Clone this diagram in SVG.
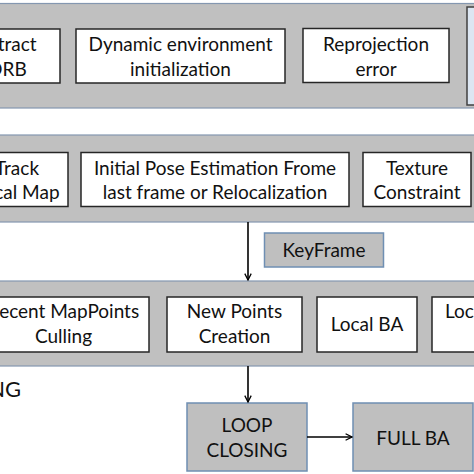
<svg xmlns="http://www.w3.org/2000/svg" width="474" height="474" viewBox="0 0 474 474">
<style>
.panel{fill:#c0c0c0;stroke:#8497b0;stroke-width:1.2}
.box{fill:#ffffff;stroke:#262626;stroke-width:1.5}
.gbox{fill:#bfbfbf;stroke:#6f8fb3;stroke-width:1.5}
.bbox{fill:#dce6f2;stroke:#404040;stroke-width:1.5}
text{font-family:Lato,"Open Sans",sans-serif;font-size:19px;fill:#111111;text-anchor:middle}
.big{font-size:22px;text-anchor:end}
.edge{stroke:#000;stroke-width:1.6;fill:none;marker-end:url(#ah)}
</style>
<defs>
<marker id="ah" viewBox="0 0 10 10" refX="9" refY="5" markerWidth="8" markerHeight="8" markerUnits="userSpaceOnUse" orient="auto">
<path d="M1,1 L9,5 L1,9" fill="none" stroke="#000" stroke-width="1.6"/>
</marker>
</defs>
<g id="panels">
<rect class="panel" x="-2" y="3.5" width="478" height="104.5"/>
<rect class="panel" x="-2" y="135" width="478" height="87"/>
<rect class="panel" x="-2" y="281" width="478" height="85"/>
</g>
<g id="n-extract"><rect class="box" x="-46" y="29" width="106" height="54"/><text x="7" y="51">Extract</text><text x="7" y="76">ORB</text></g>
<g id="n-dynamic"><rect class="box" x="76" y="29" width="209" height="54"/><text x="180.5" y="51">Dynamic environment</text><text x="180.5" y="76">initialization</text></g>
<g id="n-reproj"><rect class="box" x="303" y="28.5" width="146" height="54"/><text x="376" y="51">Reprojection</text><text x="376" y="76">error</text></g>
<g id="n-blue"><rect class="bbox" x="467" y="7" width="20" height="98"/></g>
<g id="n-track"><rect class="box" x="-34" y="152.5" width="102" height="54"/><text x="17" y="175">Track</text><text x="17" y="199">Local Map</text></g>
<g id="n-pose"><rect class="box" x="81" y="152.5" width="268" height="54"/><text x="215" y="175">Initial Pose Estimation Frome</text><text x="215" y="199">last frame or Relocalization</text></g>
<g id="n-texture"><rect class="box" x="363" y="152.5" width="108" height="54"/><text x="417" y="175">Texture</text><text x="417" y="199">Constraint</text></g>
<g id="n-keyframe"><rect class="gbox" x="264.5" y="233" width="119" height="34"/><text x="324" y="257">KeyFrame</text></g>
<g id="n-culling"><rect class="box" x="-22" y="297" width="171" height="55"/><text x="63.5" y="318">Recent MapPoints</text><text x="63.5" y="343">Culling</text></g>
<g id="n-newpts"><rect class="box" x="167" y="297" width="135" height="55"/><text x="234.5" y="318">New Points</text><text x="234.5" y="343">Creation</text></g>
<g id="n-localba"><rect class="box" x="317" y="297" width="100" height="55"/><text x="367" y="331">Local BA</text></g>
<g id="n-local2"><rect class="box" x="432" y="297" width="60" height="55"/><text x="445" y="318" style="text-anchor:start">Local</text></g>
<g id="n-label"><text class="big" x="21" y="397">NG</text></g>
<g id="n-loop"><rect class="gbox" x="187" y="403" width="120" height="68"/><text x="247" y="432">LOOP</text><text x="247" y="457">CLOSING</text></g>
<g id="n-fullba"><rect class="gbox" x="353" y="403" width="120" height="68"/><text x="413" y="445">FULL BA</text></g>
<g id="connectors">
<line class="edge" x1="248" y1="222" x2="248" y2="280"/>
<line class="edge" x1="248" y1="366" x2="248" y2="402"/>
<line class="edge" x1="307" y1="437" x2="352" y2="437"/>
</g>
</svg>
